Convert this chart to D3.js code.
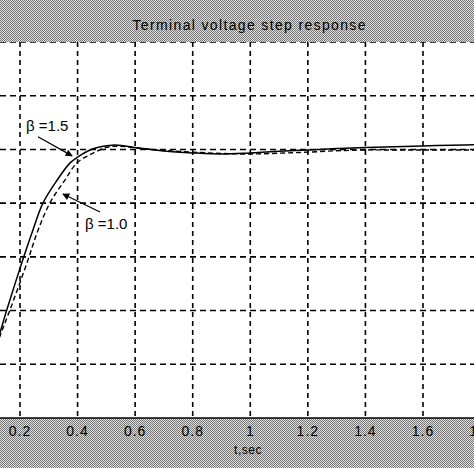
<!DOCTYPE html>
<html>
<head>
<meta charset="utf-8">
<script src="https://cdn.jsdelivr.net/npm/d3@7"></script>
<style>
  body { margin: 0; background: #fff; }
  svg { display: block; font-family: "Liberation Sans", Arial, sans-serif; }
</style>
</head>
<body>
<svg id="chart" width="474" height="474"></svg>
<script>
// step response
var tSolid = [0.12, 0.1305, 0.154, 0.206, 0.245, 0.28, 0.329, 0.374, 0.401, 0.443, 0.48, 0.52, 0.56, 0.606, 0.7, 0.8, 0.9, 1.0, 1.1, 1.2, 1.3, 1.4, 1.5, 1.6, 1.7, 1.8];
var vSolid = [0.28, 0.317, 0.402, 0.577, 0.70, 0.801, 0.886, 0.95, 0.972, 0.998, 1.010, 1.016, 1.014, 1.006, 0.994, 0.987, 0.983, 0.987, 0.993, 0.998, 1.003, 1.007, 1.010, 1.013, 1.016, 1.018];

var tDashed = [0.12, 0.1305, 0.165, 0.224, 0.263, 0.304, 0.356, 0.398, 0.443, 0.502, 0.547, 0.606, 0.7, 0.8, 0.9, 1.0, 1.1, 1.2, 1.3, 1.4, 1.5, 1.6, 1.7, 1.8];
var vDashed = [0.27, 0.305, 0.402, 0.577, 0.70, 0.801, 0.886, 0.95, 0.98, 1.008, 1.012, 1.005, 0.996, 0.99, 0.985, 0.983, 0.986, 0.99, 0.995, 0.998, 0.998, 0.998, 0.998, 0.998];

var xTicks = [0.2, 0.4, 0.6, 0.8, 1.0, 1.2, 1.4, 1.6, 1.8];
var xTickLabels = ["0.2", "0.4", "0.6", "0.8", "1", "1.2", "1.4", "1.6", "1.8"];
var yTicks = [0.2, 0.4, 0.6, 0.8, 1.0, 1.2, 1.4];

var titleText = "Terminal voltage step response";
var xLabel = "t,sec";

// label, text pos, arrow tail, arrow tip (data coords)
var notes = [
  { label: "\u03B2 =1.5", tx: 0.221, tv: 1.069, x1: 0.2625, v1: 1.047, x2: 0.381, v2: 0.976 },
  { label: "\u03B2 =1.0", tx: 0.426, tv: 0.704, x1: 0.478, v1: 0.767, x2: 0.349, v2: 0.834 }
];

var W = 474, H = 474;
var plotTop = 42, plotBottom = 418, bandBottom = 468;

var x = d3.scaleLinear().domain([0.2, 1.6]).range([20, 423]);
var y = d3.scaleLinear().domain([0, 1.4]).range([plotBottom, plotTop]);

var svg = d3.select("#chart");
var defs = svg.append("defs");

// dithered grey like the old print
var pat = defs.append("pattern")
    .attr("id", "dither")
    .attr("patternUnits", "userSpaceOnUse")
    .attr("width", 2).attr("height", 2);
pat.append("rect").attr("width", 2).attr("height", 2).attr("fill", "#dedede")
    .attr("shape-rendering", "crispEdges");
pat.append("rect").attr("width", 1).attr("height", 1).attr("fill", "#787878")
    .attr("shape-rendering", "crispEdges");
pat.append("rect").attr("x", 1).attr("y", 1).attr("width", 1).attr("height", 1).attr("fill", "#787878")
    .attr("shape-rendering", "crispEdges");

defs.append("clipPath").attr("id", "plotclip")
  .append("rect").attr("x", 0).attr("y", plotTop).attr("width", W).attr("height", plotBottom - plotTop);

defs.append("marker")
    .attr("id", "head")
    .attr("viewBox", "0 0 10 10")
    .attr("refX", 9).attr("refY", 5)
    .attr("markerWidth", 9).attr("markerHeight", 7)
    .attr("markerUnits", "userSpaceOnUse")
    .attr("orient", "auto")
  .append("path").attr("d", "M0,0L10,5L0,10z").attr("fill", "#000");

// bands
svg.append("rect").attr("x", 0).attr("y", 0).attr("width", W).attr("height", plotTop)
    .attr("fill", "url(#dither)");
svg.append("rect").attr("x", 0).attr("y", plotBottom).attr("width", W).attr("height", bandBottom - plotBottom)
    .attr("fill", "url(#dither)");

svg.append("text")
    .attr("x", 249).attr("y", 30)
    .attr("text-anchor", "middle")
    .attr("font-size", 14)
    .attr("textLength", 233)
    .attr("lengthAdjust", "spacing")
    .attr("fill", "#000")
    .text(titleText);

var plot = svg.append("g").attr("clip-path", "url(#plotclip)");

// grid
plot.selectAll(".vgrid").data(xTicks).enter().append("line")
    .attr("class", "vgrid")
    .attr("x1", function(d) { return x(d); }).attr("x2", function(d) { return x(d); })
    .attr("y1", plotTop).attr("y2", plotBottom)
    .attr("stroke", "#000").attr("stroke-width", 1.6)
    .attr("stroke-dasharray", "5,4");

plot.selectAll(".hgrid").data(yTicks).enter().append("line")
    .attr("class", "hgrid")
    .attr("x1", 0).attr("x2", W)
    .attr("y1", function(d) { return y(d); }).attr("y2", function(d) { return y(d); })
    .attr("stroke", "#000").attr("stroke-width", 1.6)
    .attr("stroke-dasharray", "6,4");

// curves
var line = d3.line()
    .x(function(d) { return x(d[0]); })
    .y(function(d) { return y(d[1]); })
    .curve(d3.curveCatmullRom);

plot.append("path")
    .datum(d3.zip(tDashed, vDashed))
    .attr("d", line)
    .attr("fill", "none").attr("stroke", "#000")
    .attr("stroke-width", 1.4)
    .attr("stroke-dasharray", "5,3");

plot.append("path")
    .datum(d3.zip(tSolid, vSolid))
    .attr("d", line)
    .attr("fill", "none").attr("stroke", "#000")
    .attr("stroke-width", 1.5);

// axis line + tick labels
svg.append("line")
    .attr("x1", 0).attr("x2", W).attr("y1", plotBottom).attr("y2", plotBottom)
    .attr("stroke", "#000").attr("stroke-width", 1.5);

svg.selectAll(".xlab").data(xTicks).enter().append("text")
    .attr("class", "xlab")
    .attr("x", function(d) { return x(d); })
    .attr("y", 436)
    .attr("text-anchor", "middle")
    .attr("font-size", 14)
    .attr("letter-spacing", 1)
    .attr("fill", "#000")
    .text(function(d, i) { return xTickLabels[i]; });

svg.append("text")
    .attr("x", 248).attr("y", 454)
    .attr("text-anchor", "middle")
    .attr("font-size", 12)
    .attr("letter-spacing", 0.5)
    .attr("fill", "#000")
    .text(xLabel);

// beta annotations
var ann = svg.selectAll(".note").data(notes).enter().append("g").attr("class", "note");
ann.append("text")
    .attr("x", function(d) { return x(d.tx); })
    .attr("y", function(d) { return y(d.tv); })
    .attr("font-size", 15)
    .attr("fill", "#000")
    .text(function(d) { return d.label; });
ann.append("line")
    .attr("x1", function(d) { return x(d.x1); }).attr("y1", function(d) { return y(d.v1); })
    .attr("x2", function(d) { return x(d.x2); }).attr("y2", function(d) { return y(d.v2); })
    .attr("stroke", "#000").attr("stroke-width", 1.2)
    .attr("marker-end", "url(#head)");
</script>
</body>
</html>
